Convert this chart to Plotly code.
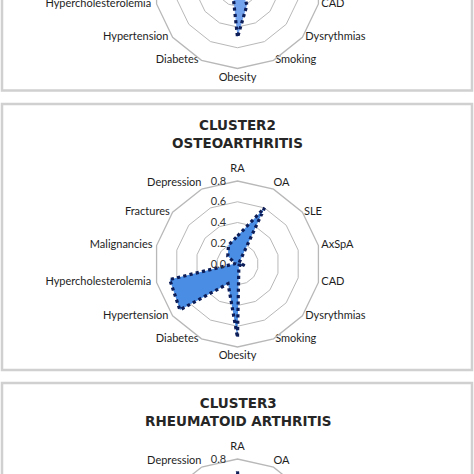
import plotly.graph_objects as go

categories = ["RA", "OA", "SLE", "AxSpA", "CAD", "Dysrythmias", "Smoking",
              "Obesity", "Diabetes", "Hypertension", "Hypercholesterolemia",
              "Malignancies", "Fractures", "Depression"]

# share of patients per comorbidity
cluster1 = [0.30, 0.20, 0.75, 0.10, 0.08, 0.05, 0.21, 0.50, 0.10, 0.08, 0.06, 0.10, 0.10, 0.20]
cluster2 = [0.27, 0.60, 0.02, 0.03, 0.07, 0.02, 0.03, 0.71, 0.21, 0.71, 0.67, 0.02, 0.12, 0.20]
cluster3 = [0.68, 0.10, 0.05, 0.05, 0.10, 0.05, 0.20, 0.20, 0.10, 0.30, 0.20, 0.05, 0.05, 0.15]

titles = ["CLUSTER2<br>OSTEOARTHRITIS", "CLUSTER3<br>RHEUMATOID ARTHRITIS"]
radial_ticks = [0, 0.2, 0.4, 0.6, 0.8]
radial_text = ["0.0", "0.2", "0.4", "0.6", "0.8"]

# only part of the first and last radar is inside the crop
shown_cats = [
    ["CAD", "Dysrythmias", "Smoking", "Obesity", "Diabetes", "Hypertension",
     "Hypercholesterolemia"],
    categories,
    ["Depression", "RA", "OA"],
]
shown_ticks = [[], radial_text, ["", "", "", "", "0.8"]]

# where excel puts the category names around the outer ring
label_side = {"RA": "top center", "OA": "top right", "Obesity": "bottom center",
              "Depression": "top left"}
for c in categories[2:7]:
    label_side[c] = "middle right"
for c in categories[8:13]:
    label_side[c] = "middle left"
# gap between ring and name (via an invisible marker size)
label_gap = {c: 3 for c in categories}
label_gap.update({"RA": 8, "Obesity": 5, "Smoking": 1, "SLE": 1, "OA": 0,
                  "Depression": 0, "Hypercholesterolemia": 7, "Hypertension": 5,
                  "Malignancies": 5})

# the picture is a crop of a tall figure: draw the whole thing, then scroll it
W = 474
H = 840
TOP = 180   # pixels of the figure hidden above the view


def py(y):
    # pixel row in the view -> paper fraction
    return 1 - (y + TOP) / H


fig = go.Figure()

series = [cluster1, cluster2, cluster3]
fills = ["#74a3ee", "#4a8de4", "#4a8de4"]
centers = [-14.5, 264, 542]
R = 83
cx = 237.5
rmax = radial_ticks[-1]

for i, vals in enumerate(series):
    name = "polar" if i == 0 else "polar%d" % (i + 1)
    fig.add_trace(go.Scatterpolar(
        r=vals + vals[:1], theta=categories + categories[:1],
        mode="lines", fill="toself", fillcolor=fills[i],
        line=dict(color="#0c1d57", width=3.2, dash="dot"),
        subplot=name, showlegend=False, hoverinfo="skip",
    ))
    # category names, placed at the outer ring like in excel
    cats = shown_cats[i]
    fig.add_trace(go.Scatterpolar(
        r=[rmax] * len(cats), theta=cats,
        mode="markers+text", text=cats,
        textposition=[label_side[c] for c in cats],
        marker=dict(size=[label_gap[c] for c in cats], color="rgba(0,0,0,0)"),
        textfont=dict(family="Lato", size=11, color="#1e1e1e"),
        cliponaxis=False, subplot=name, showlegend=False, hoverinfo="skip",
    ))
    fig.layout[name] = dict(
        domain=dict(x=[(cx - R) / W, (cx + R) / W],
                    y=[py(centers[i] + R), py(centers[i] - R)]),
        bgcolor="rgba(0,0,0,0)",
        gridshape="linear",
        radialaxis=dict(range=[0, rmax], tickmode="array", tickvals=radial_ticks,
                        ticktext=shown_ticks[i], showticklabels=bool(shown_ticks[i]),
                        angle=90, tickangle=90, side="counterclockwise",
                        showline=False, ticks="outside", ticklen=7,
                        tickcolor="rgba(0,0,0,0)", gridcolor="#b8b8b8", gridwidth=1.3,
                        tickfont=dict(family="Lato", size=11, color="#333333")),
        angularaxis=dict(direction="clockwise", rotation=90, showgrid=False,
                         showline=True, linecolor="#b8b8b8", linewidth=1.3,
                         ticks="", categoryorder="array", categoryarray=categories,
                         showticklabels=False),
    )

# panel frames
panels = [(-172, 90.5), (104, 370), (383, 649)]
for top, bottom in panels:
    fig.add_shape(type="rect", xref="paper", yref="paper",
                  x0=2 / W, x1=472 / W, y0=py(bottom), y1=py(top),
                  line=dict(color="#d0d0d0", width=2.5), layer="below")

for t, yc in zip(titles, [133.5, 411.5]):
    fig.add_annotation(text="<b>%s</b>" % t, x=cx / W, y=py(yc),
                       xref="paper", yref="paper", showarrow=False,
                       xanchor="center", yanchor="middle",
                       font=dict(family="DejaVu Sans", size=13.5, color="#262626"))

fig.update_layout(width=W, height=H, margin=dict(l=0, r=0, t=0, b=0),
                  paper_bgcolor="white", plot_bgcolor="white")

shift = ("var gd=document.getElementById('{plot_id}');"
         "document.body.style.margin='0';"
         "gd.style.marginTop='-%dpx';"
         "gd.parentElement.style.height='474px';"
         "gd.parentElement.style.overflow='hidden';" % TOP)

fig.write_html("out.html", post_script=shift)
